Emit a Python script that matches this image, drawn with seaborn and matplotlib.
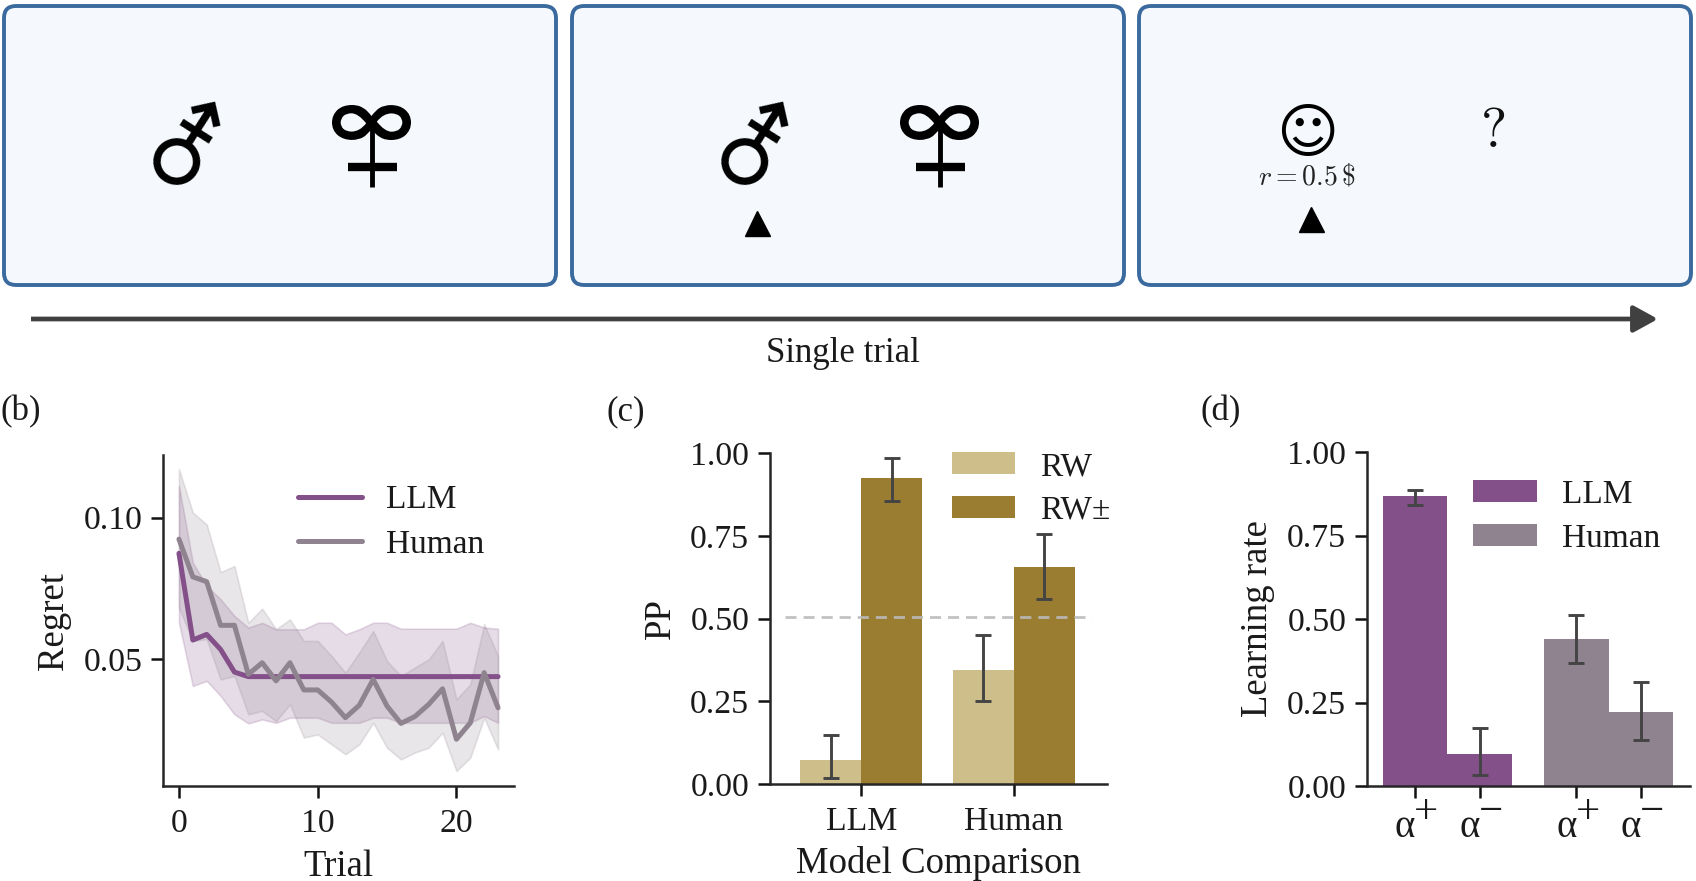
import matplotlib
matplotlib.use('Agg')
import matplotlib.pyplot as plt
from matplotlib.font_manager import FontProperties
from matplotlib.patches import FancyBboxPatch, PathPatch
from matplotlib.textpath import TextPath
from matplotlib.transforms import Affine2D
import numpy as np
import pandas as pd
import seaborn as sns

sns.set_style('ticks')
plt.rcParams.update({'font.family': ['Liberation Serif', 'DejaVu Sans'],
                     'mathtext.fontset': 'custom',
                     'mathtext.rm': 'Liberation Serif',
                     'mathtext.it': 'Liberation Serif:italic',
                     'axes.linewidth': 1.8,
                     'text.color': '#1a1a1a',
                     'axes.labelcolor': '#1a1a1a',
                     'xtick.color': '#111111',
                     'ytick.color': '#111111',
                     'xtick.labelcolor': '#1a1a1a',
                     'ytick.labelcolor': '#1a1a1a',
                     'xtick.major.size': 8.5,
                     'ytick.major.size': 8.5,
                     'xtick.major.width': 1.8,
                     'ytick.major.width': 1.8,
                     'xtick.major.pad': 8,
                     'ytick.major.pad': 6.5,
                     'xtick.labelsize': 24.3,
                     'ytick.labelsize': 24.3,
                     'axes.labelsize': 26.5,
                     'axes.labelpad': 9})

PURPLE = '#845089'
GREY = '#8f838f'
TAN = '#cdbe8a'
OLIVE = '#9a7d31'
ERR = '#444444'

# (b) regret per trial
trials = list(range(24))
llm_mean = [.0874, .0568, .0588, .0535, .0455, .0439, .0439, .0439, .0439, .0439, .0439, .0439,
            .0439, .0439, .0439, .0439, .0439, .0439, .0439, .0439, .0439, .0439, .0439, .0439]
llm_upper = [.1112, .0841, .0759, .0712, .0653, .0612, .0629, .0606, .0606, .0606, .0629, .0629,
             .0588, .0606, .0629, .0629, .0608, .0608, .0608, .0608, .0608, .0629, .0612, .0608]
llm_lower = [.0629, .0406, .0424, .0371, .0306, .0274, .0288, .0276, .0294, .0294, .0294, .0276,
             .0276, .0276, .0294, .0294, .0276, .0276, .0276, .0276, .0276, .0276, .0300, .0276]
human_mean = [.0924, .0791, .0774, .0620, .0620, .0447, .0488, .0424, .0488, .0392, .0392, .0349,
              .0294, .0338, .0429, .0335, .0274, .0298, .0341, .0396, .0218, .0276, .0453, .0329]
human_upper = [.1171, .1018, .0976, .0808, .0829, .0629, .0679, .0606, .0641, .0565, .0565, .0512,
               .0453, .0524, .0600, .0494, .0441, .0471, .0500, .0565, .0359, .0412, .0624, .0512]
human_lower = [.0682, .0565, .0571, .0429, .0441, .0306, .0318, .0282, .0341, .0224, .0235, .0200,
               .0165, .0200, .0276, .0188, .0147, .0171, .0188, .0241, .0106, .0153, .0294, .0182]

# (c) protected probability
groups = ['LLM', 'Human']
models = ['RW', 'RW±']
pp_rw = [.0735, .345]
pp_rw_low = [.018, .251]
pp_rw_high = [.149, .451]
pp_rwpm = [.925, .657]
pp_rwpm_low = [.856, .559]
pp_rwpm_high = [.984, .755]

# (d) learning rates
lr_pos = [0, 1, 2.5, 3.5]
lr_labels = ['α', 'α', 'α', 'α']
lr_signs = ['+', '−', '+', '−']
lr_group = ['LLM', 'LLM', 'Human', 'Human']
lr_vals = [.8695, .0956, .439, .221]
lr_low = [.842, .033, .3695, .137]
lr_high = [.887, .173, .513, .311]

W, H = 1696, 881
fig = plt.figure(figsize=(W / 100, H / 100), dpi=100)


def axes_px(x0, x1, y0, y1):
    return fig.add_axes([x0 / W, 1 - y1 / H, (x1 - x0) / W, (y1 - y0) / H])


# ---- top schematic, drawn in pixel coordinates
bg = fig.add_axes([0, 0, 1, 1])
bg.set_xlim(0, W)
bg.set_ylim(H, 0)
bg.axis('off')

for x0 in [4, 572, 1139]:
    bg.add_patch(FancyBboxPatch((x0 + 10, 16), 532, 259, boxstyle='round,pad=10,rounding_size=12',
                                fc='#f5f9fd', ec='#3a6a9e', lw=2.8))

inf_path = TextPath((0, 0), '∞', size=1, prop=FontProperties(family='DejaVu Sans', weight='bold'))
ext = inf_path.get_extents()
for dx in [0, 568]:
    bg.text(183 + dx, 159, '⚦', family='DejaVu Sans', fontsize=73, rotation=-10, ha='center', va='center', color='black')
    tr = (Affine2D().translate(-ext.x0, -ext.y0).scale(79 / ext.width, -35 / ext.height)
          .translate(332 + dx, 140) + bg.transData)
    bg.add_patch(PathPatch(inf_path, transform=tr, fc='black', ec='none'))
    bg.plot([372 + dx, 372 + dx], [125, 187], color='black', lw=3.5, solid_capstyle='butt')
    bg.plot([348 + dx, 397 + dx], [167, 167], color='black', lw=6, solid_capstyle='butt')

bg.plot([757], [223], marker='^', ms=18, color='black')
bg.plot([1311], [219], marker='^', ms=18, color='black')
bg.text(1307, 135, '☺', family='DejaVu Sans', fontsize=43, ha='center', va='center', color='black')
bg.text(1307, 177, r'$r = 0.5\,\$$', math_fontfamily='cm', fontsize=20, ha='center', va='center', color='#222222')
bg.text(1493, 133, r'$?$', math_fontfamily='cm', fontsize=40, ha='center', va='center', color='#111111')

bg.annotate('', xy=(1658, 319), xytext=(31, 319),
            arrowprops=dict(arrowstyle='-|>,head_length=0.62,head_width=0.34', lw=3.4, color='#404040',
                            shrinkA=0, shrinkB=0, mutation_scale=24, capstyle='butt'))
bg.text(843, 353, 'Single trial', fontsize=25, ha='center', va='center')

bg.text(0, 412, '(b)', fontsize=25, ha='left', va='center')
bg.text(607, 412, '(c)', fontsize=25, ha='left', va='center')
bg.text(1201, 412, '(d)', fontsize=25, ha='left', va='center')

# ---- (b)
ax = axes_px(163, 514, 455, 786)
sns.lineplot(x=trials, y=llm_mean, ax=ax, color=PURPLE, lw=3.6, label='LLM')
sns.lineplot(x=trials, y=human_mean, ax=ax, color=GREY, lw=3.6, label='Human')
ax.fill_between(trials, llm_lower, llm_upper, color=PURPLE, alpha=0.2, lw=1.2)
ax.fill_between(trials, human_lower, human_upper, color=GREY, alpha=0.2, lw=1.2)
ax.set_xlim(-1.15, 24.15)
ax.set_ylim(.0053, .1221)
ax.set_xticks([0, 10, 20])
ax.set_yticks([.05, .10])
ax.set_yticklabels(['0.05', '0.10'])
ax.set_xlabel('Trial', labelpad=7)
ax.set_ylabel('Regret')
ax.legend(frameon=False, fontsize=24, loc='upper right', bbox_to_anchor=(1.0, 1.0), handlelength=1.9,
          handletextpad=0.72, labelspacing=0.42)

# ---- (c)
ax = axes_px(770, 1107, 453, 784)
df_pp = pd.DataFrame({'group': groups * 2,
                      'model': [models[0]] * 2 + [models[1]] * 2,
                      'pp': pp_rw + pp_rwpm})
sns.barplot(data=df_pp, x='group', y='pp', hue='model', ax=ax, palette=[TAN, OLIVE], saturation=1, width=0.8,
            errorbar=None, linewidth=0)
low = pp_rw_low + pp_rwpm_low
high = pp_rw_high + pp_rwpm_high
vals = pp_rw + pp_rwpm
for bar, v, lo, hi in zip(ax.patches, vals, low, high):
    ax.errorbar(bar.get_x() + bar.get_width() / 2, v, yerr=[[v - lo], [hi - v]], color=ERR, lw=2.1, capsize=6, capthick=2.1)
ax.hlines(0.505, -0.5, 1.51, color='#bbbbbb', lw=2, ls=(0, (4, 2.5)), alpha=0.9, zorder=5)
ax.set_xlim(-0.6, 1.61)
ax.set_ylim(0, 1)
ax.set_yticks([0, .25, .5, .75, 1])
ax.set_yticklabels(['0.00', '0.25', '0.50', '0.75', '1.00'])
ax.set_xlabel('Model Comparison', labelpad=6.5)
ax.set_ylabel('PP')
ax.legend(frameon=False, fontsize=24, loc='upper right', bbox_to_anchor=(1.1, 1.095), handlelength=1.9, handleheight=0.65,
          handletextpad=0.75, labelspacing=0.4, title=None)

# ---- (d)
ax = axes_px(1367, 1690, 452, 786)
df_lr = pd.DataFrame({'pos': lr_pos, 'lr': lr_vals, 'group': lr_group})
sns.barplot(data=df_lr, x='pos', y='lr', hue='group', ax=ax, palette=[PURPLE, GREY], saturation=1,
            native_scale=True, dodge=False, width=1.0, errorbar=None, linewidth=0)
for p, v, lo, hi in zip(lr_pos, lr_vals, lr_low, lr_high):
    ax.errorbar(p, v, yerr=[[v - lo], [hi - v]], color=ERR, lw=2.1, capsize=6, capthick=2.1)
ax.set_xlim(-0.744, 4.26)
ax.set_ylim(0, 1)
ax.set_xticks(lr_pos)
ax.set_xticklabels(lr_labels, ha='right', fontsize=28)
for p, s in zip(lr_pos, lr_signs):
    ax.annotate(s, xy=(p, 0), xycoords=('data', 'axes fraction'), xytext=(8, -19), textcoords='offset points',
                fontsize=31, ha='center', va='center', annotation_clip=False)
ax.set_yticks([0, .25, .5, .75, 1])
ax.set_yticklabels(['0.00', '0.25', '0.50', '0.75', '1.00'])
ax.set_xlabel('')
ax.set_ylabel('Learning rate')
ax.legend(frameon=False, fontsize=24, loc='upper right', bbox_to_anchor=(1.0, 1.008), handlelength=1.9, handleheight=0.65,
          handletextpad=0.75, labelspacing=0.4, title=None)

for a in fig.axes[1:]:
    sns.despine(ax=a)
    a.patch.set_alpha(0)

fig.savefig('out.png', dpi=100)
